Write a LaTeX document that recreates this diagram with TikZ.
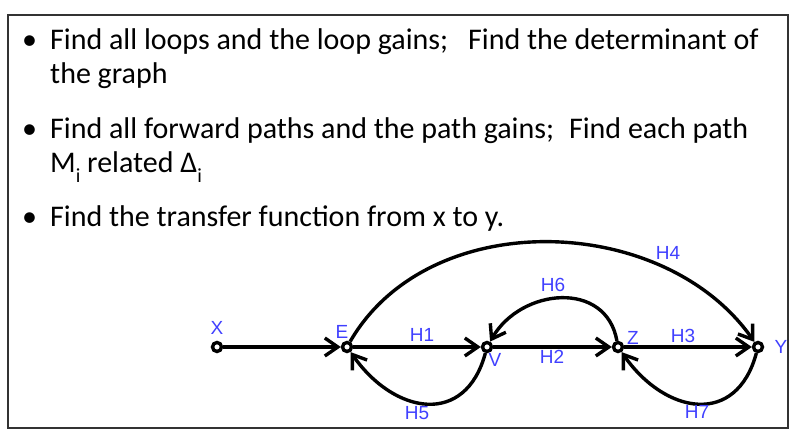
\documentclass[tikz,border=0pt]{standalone}
\usepackage{fontspec}
\setmainfont{Carlito}
\newfontfamily\lblfont{Liberation Sans}
\usetikzlibrary{arrows.meta}
\definecolor{lblblue}{RGB}{64,64,255}
\newcommand{\sbs}[1]{\raisebox{-10pt}{\fontsize{20}{20}\selectfont #1}}

\begin{document}
\begin{tikzpicture}[x=1pt,y=1pt,
  every node/.style={inner sep=0pt},
  txt/.style={anchor=base west,font=\fontsize{30}{34}\selectfont},
  vtx/.style={circle,draw,line width=3.4pt,fill=white,minimum size=9pt},
  lbl/.style={text=lblblue,font=\lblfont\fontsize{19}{21}\selectfont},
  edge/.style={line width=3.4pt,-{Straight Barb[length=13pt,width=18pt]}}]
\useasboundingbox (0,0) rectangle (796,438);
\draw [line width=1.5pt, black!80] (8,10) rectangle (788,423);
% bullet points
\foreach \y/\n in {388.5/1,299.5/2,211.5/3} {
    \node[txt] (bul\n) at (22,\y) {•};
}
\node[txt] (l1) at (50,388.5) {Find all loops and the loop gains;\hspace{20pt}Find the determinant of};
\node[txt] (l2) at (50,354.5) {the graph};
\node[txt] (l3) at (50,299.5) {Find all forward paths and the path gains;\hspace{15pt}Find each path};
\node[txt] (l4) at (50,265.5) {M\sbs{i} related Δ\sbs{i}};
\node[txt] (l5) at (50,211.5) {Find the transfer function from x to y.};
% signal flow graph
\node[vtx] (X) at (217,91) {};
\node[vtx] (E) at (347,91) {};
\node[vtx] (V) at (487,91) {};
\node[vtx] (Z) at (618,91) {};
\node[vtx] (Y) at (758,91) {};
\draw [edge] (X) -- (E);
\draw [edge] (E) -- (V);
\draw [edge] (V) -- (Z);
\draw [edge] (Z) -- (Y);
\draw [edge] (E) to[out=60,in=125,looseness=1.0] (Y);
\draw [edge] (Z) to[out=100,in=60,looseness=1.25] (V);
\draw [edge] (V) to[out=-105,in=-55,looseness=1.45] (E);
\draw [edge] (Y) to[out=-105,in=-55,looseness=1.45] (Z);
% node names
\node[lbl] (Xn) at (217,110) {X};
\node[lbl] (En) at (342,106) {E};
\node[lbl] (Vn) at (495,78) {V};
\node[lbl] (Zn) at (633,100) {Z};
\node[lbl] (Yn) at (781,91) {Y};
% branch gains
\node[lbl] (H1) at (422,103) {H1};
\node[lbl] (H2) at (552,81) {H2};
\node[lbl] (H3) at (683,102) {H3};
\node[lbl] (H4) at (668,185) {H4};
\node[lbl] (H5) at (417,25) {H5};
\node[lbl] (H6) at (553,153) {H6};
\node[lbl] (H7) at (697,26) {H7};
\end{tikzpicture}
\end{document}
